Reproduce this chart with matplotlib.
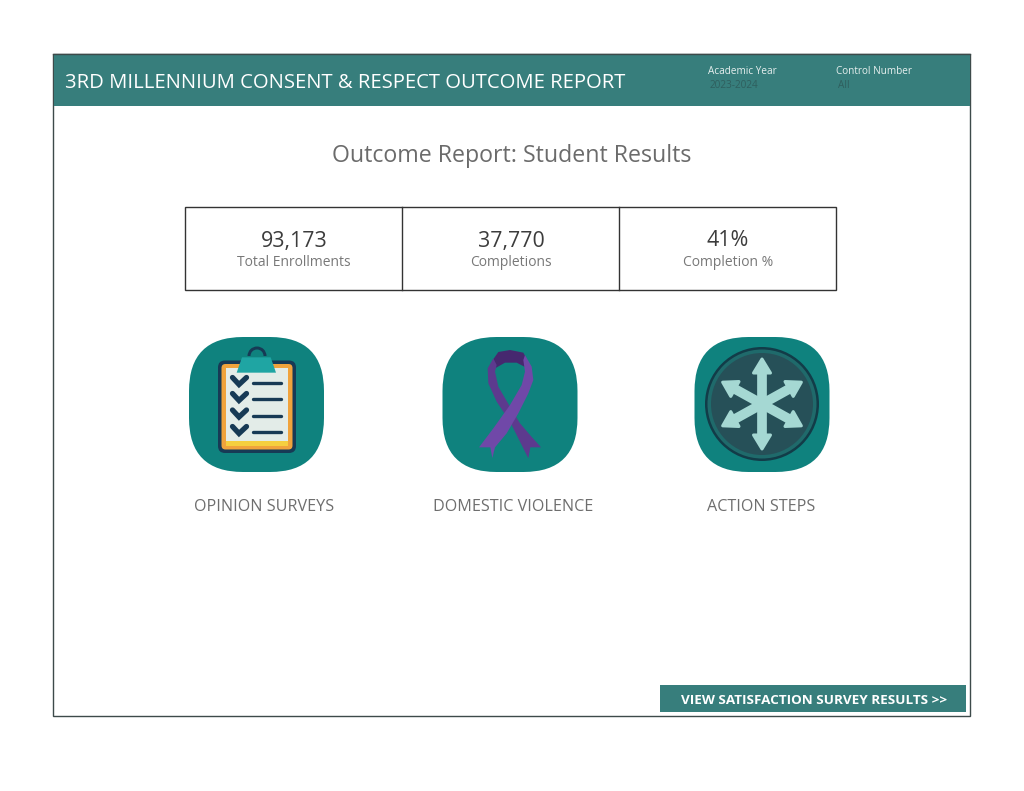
import math
import matplotlib
matplotlib.use("Agg")
from matplotlib import pyplot as plt
from matplotlib.patches import Rectangle, FancyBboxPatch, Polygon, Circle, Wedge

plt.rcParams['font.family'] = ['Open Sans', 'DejaVu Sans']

report_title = "3RD MILLENNIUM CONSENT & RESPECT OUTCOME REPORT"
page_title = "Outcome Report: Student Results"
filter_names = ["Academic Year", "Control Number"]
filter_values = ["2023-2024", "All"]
kpi_values = ["93,173", "37,770", "41%"]
kpi_labels = ["Total Enrollments", "Completions", "Completion %"]
icon_labels = ["OPINION SURVEYS", "DOMESTIC VIOLENCE", "ACTION STEPS"]
button_label = "VIEW SATISFACTION SURVEY RESULTS >>"

TEAL = "#377e7c"
ICON_TEAL = "#0f827e"
NAVY = "#173a55"

fig = plt.figure(figsize=(10.24, 7.91), dpi=100)
ax = fig.add_axes([0, 0, 1, 1])
ax.set_xlim(0, 1024)
ax.set_ylim(791, 0)
ax.axis("off")


def tile(x, y, w, h, rad, color, z=2, lw=0, ec="none"):
    ax.add_patch(FancyBboxPatch((x + rad, y + rad), w - 2*rad, h - 2*rad,
                                boxstyle=f"round,pad={rad},rounding_size={rad}",
                                fc=color, ec=ec, lw=lw, zorder=z))


def poly(points, x0, y0, color, z=3):
    pts = [(x0 + a/3, y0 + b/3) for a, b in points]
    ax.add_patch(Polygon(pts, closed=True, fc=color, ec="none", zorder=z))


# frame and header
ax.add_patch(Rectangle((53, 54), 916.5, 661.5, fc="white", ec="#3d4a4a", lw=1, zorder=1))
ax.add_patch(Rectangle((53.5, 54), 916, 52, fc=TEAL, ec="none", zorder=2))
ax.plot([53, 970], [54, 54], color="#3d4a4a", lw=1, zorder=3)
ax.text(65, 83, report_title, color="white", fontsize=14.6, va="center", ha="left", zorder=4)
for x, name, val in zip([708, 836], filter_names, filter_values):
    ax.text(x, 71, name, color="#e6efee", fontsize=7.2, va="center", zorder=4)
    ax.text(x + 2, 85, val, color="#2f5f5e", fontsize=7.2, va="center", zorder=4)

ax.text(511.5, 156.5, page_title, color="#6b6b6b", fontsize=16.7, ha="center", va="center")

# kpi boxes
ax.add_patch(Rectangle((185, 207), 651, 82.5, fc="white", ec="#333333", lw=1, zorder=2))
for x in [402, 619]:
    ax.plot([x, x], [207, 289.5], color="#333333", lw=1, zorder=3)
for x, val, lab in zip([294, 511, 728], kpi_values, kpi_labels):
    ax.text(x, 241, val, color="#3c3c3c", fontsize=15.4, ha="center", va="center")
    ax.text(x, 263, lab, color="#787878", fontsize=10, ha="center", va="center")

# icon tiles
tile(189, 337, 135, 135, 54, ICON_TEAL)
tile(442.5, 337, 135, 135, 54, ICON_TEAL)
tile(694.5, 337, 135, 135, 54, ICON_TEAL)

# clipboard
ax.add_patch(Wedge((257, 356), 9.5, 180, 360, width=3, fc=NAVY, ec="none", zorder=3))
tile(218, 360.5, 78, 92.5, 7, NAVY, z=3)
tile(221.5, 364, 71, 85.5, 4, "#f0a33c", z=4)
ax.add_patch(Rectangle((226, 368), 62, 73, fc="#e3ece8", ec="none", zorder=5))
ax.add_patch(Rectangle((226, 441), 62, 4.5, fc="#f5cf3f", ec="none", zorder=5))
poly([(186, 82), (272, 82), (288, 128), (170, 128)], 180, 330, "#1fa5a3", z=6)
for y in [382, 398, 414.5, 431]:
    ax.plot([232.5, 239, 246.5], [y - 4.5, y + 2.5, y - 4.5], color=NAVY, lw=3.8,
            solid_capstyle="round", solid_joinstyle="miter", zorder=6)
    ax.plot([253, 281], [y + 1, y + 1], color=NAVY, lw=2.4, solid_capstyle="round", zorder=6)

# ribbon
poly([(172, 92), (190, 66), (225, 60), (265, 68), (278, 92), (272, 112), (245, 98), (210, 98), (180, 115)],
     435, 330, "#46286f")
poly([(175, 85), (158, 115), (160, 160), (185, 215), (225, 275), (280, 385), (286, 352), (318, 352),
      (285, 315), (255, 280), (222, 225), (190, 170), (180, 125), (185, 105)], 435, 330, "#5d3a8e", z=3)
poly([(270, 75), (290, 110), (295, 150), (280, 190), (250, 250), (215, 310), (180, 352), (172, 384),
      (166, 352), (132, 352), (175, 295), (225, 225), (260, 165), (270, 125), (265, 90)],
     435, 330, "#7048a8", z=4)

# arrows icon
c = (762, 404)
ax.add_patch(Circle(c, 57, fc="#123c48", ec="none", zorder=3))
ax.add_patch(Circle(c, 54.5, fc="#1f6a6b", ec="none", zorder=3))
ax.add_patch(Circle(c, 51, fc="#265058", ec="none", zorder=3))
for deg in [90, 29, -29, -90, 209, 151]:
    a = math.radians(deg)
    ux, uy = math.cos(a), -math.sin(a)
    px, py = -uy, ux
    tip = (c[0] + 45*ux, c[1] + 45*uy)
    neck = (c[0] + 31*ux, c[1] + 31*uy)
    ax.plot([c[0], neck[0]], [c[1], neck[1]], color="#a5d8d3", lw=7, zorder=4, solid_capstyle="butt")
    ax.add_patch(Polygon([tip, (neck[0] + 8.5*px, neck[1] + 8.5*py), (neck[0] - 8.5*px, neck[1] - 8.5*py)],
                         closed=True, fc="#a5d8d3", ec="#a5d8d3", lw=2.2, joinstyle="round", zorder=4))

for x, lab in zip([264, 513, 761.5], icon_labels):
    ax.text(x, 507, lab, color="#6e6e6e", fontsize=11.6, ha="center", va="center")

# button
ax.add_patch(Rectangle((660, 685), 306, 27, fc=TEAL, ec="none", zorder=2))
ax.text(814, 700.5, button_label, color="white", fontsize=9.7, fontweight="bold", ha="center", va="center", zorder=3)

fig.savefig("out.png", dpi=100, facecolor="white")
